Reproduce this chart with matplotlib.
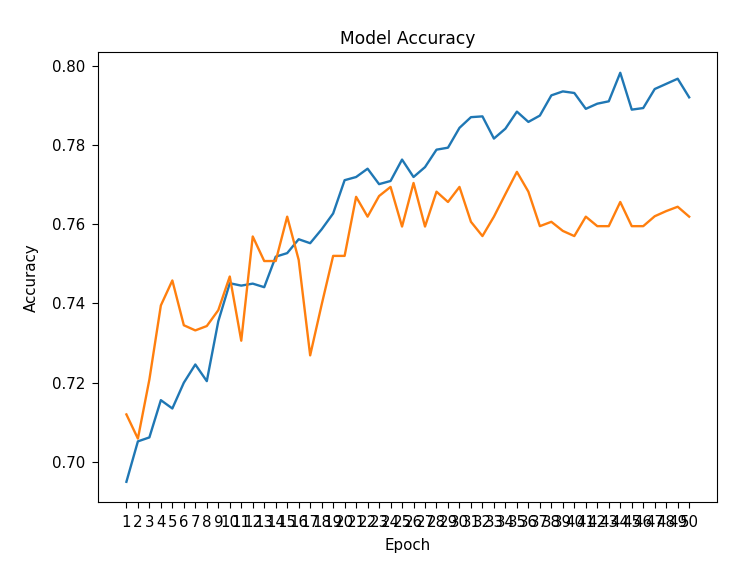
import matplotlib
matplotlib.use("Agg")
import matplotlib.pyplot as plt

epochs = list(range(1, 51))

train_acc = [
    0.6950, 0.7052, 0.7062, 0.7156, 0.7135, 0.7200, 0.7246, 0.7204, 0.7355, 0.7451,
    0.7445, 0.7450, 0.7441, 0.7518, 0.7527, 0.7562, 0.7552, 0.7587, 0.7627, 0.7711,
    0.7719, 0.7740, 0.7701, 0.7709, 0.7763, 0.7719, 0.7744, 0.7788, 0.7793, 0.7843,
    0.7870, 0.7872, 0.7816, 0.7841, 0.7884, 0.7858, 0.7874, 0.7925, 0.7935, 0.7931,
    0.7891, 0.7904, 0.7910, 0.7982, 0.7889, 0.7893, 0.7941, 0.7954, 0.7967, 0.7920,
]

val_acc = [
    0.7120, 0.7059, 0.7208, 0.7395, 0.7458, 0.7345, 0.7332, 0.7343, 0.7383, 0.7468,
    0.7306, 0.7569, 0.7507, 0.7507, 0.7619, 0.7510, 0.7269, 0.7397, 0.7520, 0.7520,
    0.7669, 0.7619, 0.7671, 0.7694, 0.7594, 0.7704, 0.7594, 0.7682, 0.7656, 0.7694,
    0.7606, 0.7570, 0.7619, 0.7676, 0.7732, 0.7682, 0.7595, 0.7606, 0.7583, 0.7570,
    0.7619, 0.7595, 0.7595, 0.7656, 0.7595, 0.7595, 0.7620, 0.7633, 0.7644, 0.7619,
]

plt.rcParams["font.size"] = 10.8
plt.rcParams["xtick.major.size"] = 4
plt.rcParams["ytick.major.size"] = 4
plt.rcParams["xtick.major.pad"] = 5
plt.rcParams["ytick.major.pad"] = 5.5

fig = plt.figure(figsize=(7.53, 5.62), dpi=100)
plt.subplots_adjust(left=0.1305, right=0.9526, top=0.9069, bottom=0.1063)
plt.plot(epochs, train_acc, linewidth=1.7)
plt.plot(epochs, val_acc, linewidth=1.7)
plt.title("Model Accuracy", fontsize=12.3)
plt.xlabel("Epoch", labelpad=6)
plt.ylabel("Accuracy", labelpad=9)
plt.xticks(epochs)
plt.savefig("out.png", dpi=100)
